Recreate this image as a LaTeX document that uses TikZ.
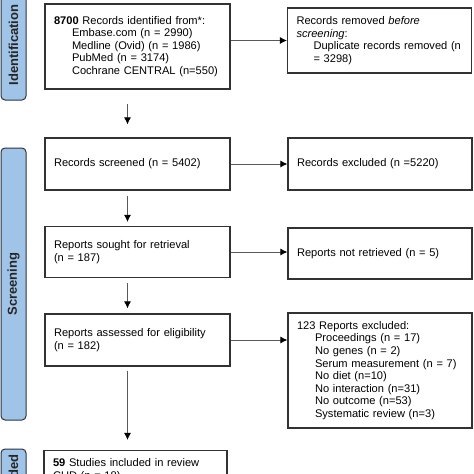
\documentclass[tikz,border=0pt]{standalone}
\usepackage{fontspec}
\setmainfont{Liberation Sans}
\usetikzlibrary{arrows.meta}
\definecolor{phaseblue}{RGB}{160,196,232}
\definecolor{phaseedge}{RGB}{45,52,64}
\definecolor{boxedge}{RGB}{50,50,50}
\definecolor{arrowgray}{RGB}{90,90,90}

\begin{document}
\begin{tikzpicture}[x=1pt, y=-1pt, node distance=88pt,
		flowbox/.style={rectangle, draw=boxedge, line width=1.2pt, fill=white, align=left,
		inner xsep=9pt, inner ysep=5pt, font=\fontsize{11.1}{12.6}\selectfont},
		leftbox/.style={flowbox, text width=167pt},
		rightbox/.style={flowbox, text width=166pt},
		phase/.style={rectangle, rounded corners=4pt, draw=phaseedge, line width=1pt,
		fill=phaseblue, rotate=90, minimum height=25pt, inner sep=0pt, text=black!85,
		font=\fontsize{13}{15}\selectfont\bfseries},
		flow/.style={draw=arrowgray, line width=0.9pt, -{Latex[length=7pt, width=7pt, color=black]}}
		]
		\useasboundingbox (0,0) rectangle (474,474);
		\clip (0,0) rectangle (474,474);
		\fill[white] (0,0) rectangle (474,474);

		\node[phase, minimum width=110pt] (P1) at (13.5,45) {Identification};
		\node[phase, minimum width=272pt] (P2) at (13.5,284) {Screening};
		\node[phase, minimum width=64pt] (P3) at (13.5,481) {Included};

		\node[leftbox, minimum height=85pt] (Id) at (137.5,46.5) {\textbf{8700} Records identified from*:\\
			\hspace*{18pt}Embase.com (n = 2990)\\
			\hspace*{18pt}Medline (Ovid) (n = 1986)\\
			\hspace*{18pt}PubMed (n = 3174)\\
			\hspace*{18pt}Cochrane CENTRAL (n=550)};
		\node[rightbox, minimum height=65pt, right of = Id, xshift = 154pt, yshift = 6pt](Rm){Records removed \textit{before}\\
			\textit{screening}:\\
			\hspace*{17pt}Duplicate records removed (n\\
			\hspace*{17pt}= 3298)};
		\draw[flow] (Rm.west -| Id.east) -- (Rm.west);
		\node[leftbox, minimum height=52pt, below of = Id, yshift = -29.5pt](Sc){Records screened (n = 5402)};
		\draw[flow, shorten <=14pt, shorten >=13pt] ([xshift=-10pt]Id.south) -- ([xshift=-10pt]Sc.north);
		\node[rightbox, minimum height=52pt, right of = Sc, xshift = 154.5pt](Ex){Records excluded (n =5220)};
		\draw[flow] (Sc) -- (Ex);
		\node[leftbox, minimum height=51pt, below of = Sc](So){Reports sought for retrieval\\(n = 187)};
		\draw[flow, shorten <=5pt, shorten >=4pt] ([xshift=-10pt]Sc.south) -- ([xshift=-10pt]So.north);
		\node[rightbox, minimum height=51pt, right of = So, xshift = 154.5pt, yshift = -1.5pt](Nr){Reports not retrieved (n = 5)};
		\draw[flow] (So.east) -- (So.east -| Nr.west);
		\node[leftbox, minimum height=52pt, below of = So](As){Reports assessed for eligibility\\(n = 182)};
		\draw[flow, shorten <=5pt, shorten >=5pt] ([xshift=-10pt]So.south) -- ([xshift=-10pt]As.north);
		\node[rightbox, minimum height=115pt, right of = As, xshift = 154.5pt, yshift = -30.5pt](Ar){123 Reports excluded:\\
			\hspace*{18pt}Proceedings (n = 17)\\
			\hspace*{18pt}No genes (n = 2)\\
			\hspace*{18pt}Serum measurement (n = 7)\\
			\hspace*{18pt}No diet (n=10)\\
			\hspace*{18pt}No interaction (n=31)\\
			\hspace*{18pt}No outcome (n=53)\\
			\hspace*{18pt}Systematic review (n=3)};
		\draw[flow] (As.east) -- (As.east -| Ar.west);
		\node[flowbox, text width=165pt, inner ysep=8pt, below of = As, xshift = -2pt, yshift = -42pt](In){\textbf{59} Studies included in review\\CUD (n = 18)};
		\draw[flow, shorten <=4pt, shorten >=10pt] ([xshift=-10pt]As.south) -- ([xshift=-8pt]In.north);
	\end{tikzpicture}
\end{document}
